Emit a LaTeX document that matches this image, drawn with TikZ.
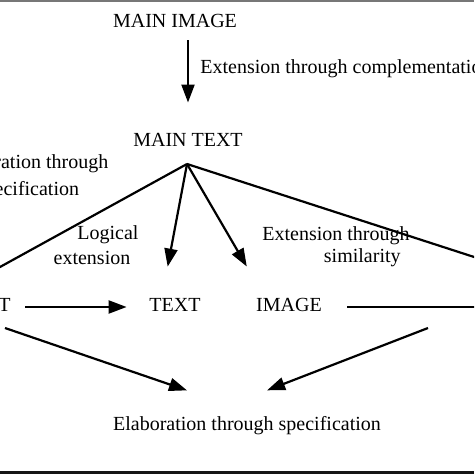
\documentclass[tikz,border=0pt]{standalone}
\usepackage{fontspec}
\setmainfont{Liberation Serif}
\usetikzlibrary{arrows.meta,positioning}
\definecolor{rulegray}{HTML}{777777}
\definecolor{ruledark}{HTML}{151515}
\tikzset{
  term/.style={font=\fontsize{10}{12}\selectfont,inner sep=3.33pt},
  note/.style={font=\fontsize{10}{12}\selectfont,align=center,inner sep=0pt},
  link/.style={line width=1.1pt,black},
  arrow/.style={link,-{Triangle[length=9pt,width=6.5pt]}}
}

\begin{document}
\begin{tikzpicture}[x=0.5pt,y=-0.5pt]
    \useasboundingbox (0,0) rectangle (474,474);
    \clip (0,0) rectangle (474,474);
    \fill[rulegray] (0,0) rectangle (474,2.5);
    \fill[ruledark] (0,471) rectangle (474,474);
    \node[term] (mainimage) at (175,21) {MAIN IMAGE};
    \node[term] (maintext) at (188,140) {MAIN TEXT};
    \node[term] (lefttext) at (-15,305) {TEXT};
    \node[term] (text) at (175,305) {TEXT};
    \node[term] (image) at (289,305) {IMAGE};
    \node[note,anchor=base west] (complement) at (200,74) {Extension through complementation};
    \node[note,anchor=north] (elabtop) at (28,154.5) {Elaboration through\\[1.2pt]specification};
    \node[note] (logical) at (92,245) {\hspace*{16pt}Logical\\[0.5pt]extension};
    \node[note,align=right,anchor=north east] (similar) at (410,226) {Extension through\\[-1pt]similarity\hspace*{4.5pt}};
    \node[note,anchor=base] (elab) at (247,430) {Elaboration through specification};
    \coordinate (apex) at (187,164);
    \coordinate (leftend) at (-10,272.5);
    \coordinate (rightend) at (500,265.4);
    \coordinate (farimage) at (500,307);
    \coordinate (lowleft) at (5,328);
    \coordinate (lowright) at (428,328);
    \draw[arrow,shorten <=2.85pt,shorten >=11.9pt] (mainimage.south -| maintext.north) -- (maintext.north);
    \draw[link] (apex) -- (leftend);
    \draw[link] (apex) -- (rightend);
    \draw[arrow,shorten >=12.6pt] (apex) -- ([xshift=-6pt]text.north);
    \draw[arrow,shorten >=14.3pt] (apex) -- ([xshift=6pt]image.north west);
    \draw[arrow,shorten <=3.9pt,shorten >=7.9pt] ([yshift=-1pt]lefttext.east) -- ([yshift=-1pt]text.west);
    \draw[link,shorten <=9.3pt] ([yshift=-1pt]image.east) -- (farimage);
    \draw[arrow,shorten >=38.8pt] (lowleft) -- ([xshift=6.7pt]elab.north);
    \draw[arrow,shorten >=34.9pt] (lowright) -- ([xshift=-22.5pt]elab.north);
\end{tikzpicture}
\end{document}
